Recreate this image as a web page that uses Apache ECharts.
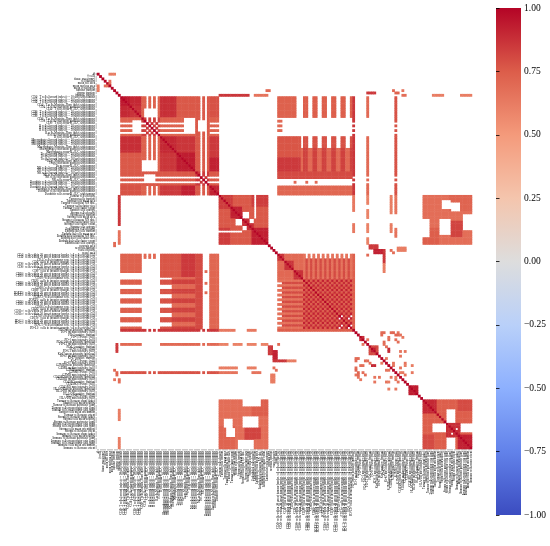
<!DOCTYPE html>
<html><head><meta charset="utf-8">
<script src="https://cdn.jsdelivr.net/npm/echarts@6/dist/echarts.min.js"></script>
<style>html,body{margin:0;padding:0;background:#fff}#c{width:550px;height:546px}</style>
</head><body><div id="c"></div>
<script>
// ---------- labels ----------
const smallNames = ['id', '# cells', 'tissue area (mm²)', 'cell density', 'mean cell area', 'mean nucleus area', 'mean eccentricity', 'tumour fraction', 'stroma fraction', 'immune fraction'];
const aPops = ['CD4+ T cells', 'CD8+ T cells', 'B cells', 'Macrophages', 'Tregs', 'NK cells', 'Dendritic cells'];
const aMetrics = ['Jaccard index (r = 10 µm) with tumour', 'Jaccard index (r = 20 µm) with tumour', 'Jaccard index (r = 50 µm) with tumour', 'Morisita–Horn index with tumour', 'colocation quotient with tumour', 'cross-K AUC with tumour'];
const bPops = ['Tumour cells', 'Stroma cells', 'Endothelial cells'];
const bMetrics = ['density', 'fraction', 'mean area', 'mean NN dist.', 'cluster size', 'cluster count', 'entropy'];
const postBNames = ['necrosis area', 'necrosis fraction', 'vessel density', 'vessel area'];
const cPops = ['CD4+', 'CD8+', 'CD20+', 'CD68+', 'FOXP3+', 'CD56+', 'CD11c+', 'PD-L1+'];
const cMetrics = ['cells within 20 µm of tumour border / all cells of type (%)', 'cells within 50 µm of tumour border / all cells of type (%)', 'cells in tumour core / all cells of type (%)', 'cells in invasive margin / all cells of type (%)'];
const postCMarkers = ['PD-1', 'PD-L1', 'Ki-67', 'GZMB', 'CD45RO', 'HLA-DR'];
const postCMetrics = ['mean intensity (nucleus)', 'median intensity (cell)', 'positive fraction', 'H-score (cell)', 'max intensity (cell)'];
const dPops = ['Tumour cells', 'Stroma cells', 'Immune cells'];
const dMetrics = ['mean shape index', 'mean solidity', 'mean perimeter (µm)', 'mean major axis (µm)', 'mean minor axis (µm)', 'mean orientation', 'mean extent'];
const cbTicks = [-1, -0.75, -0.5, -0.25, 0, 0.25, 0.5, 0.75, 1];
const cmapColors = ['#3b4cc0', '#6282ea', '#8db0fe', '#b9d0f9', '#dddddd', '#f4c5ad', '#f49a7b', '#dc5d4a', '#b40426'];

const labels = [].concat(
  smallNames,
  aPops.flatMap(p => aMetrics.map(m => p + ' ' + m)),
  bPops.flatMap(p => bMetrics.map(m => p + ' ' + m)),
  postBNames,
  cPops.flatMap(p => cMetrics.map(m => p + ' ' + m)),
  postCMarkers.flatMap(p => postCMetrics.map(m => p + ' ' + m)),
  dPops.flatMap(p => dMetrics.map(m => p + ' ' + m))
);
const N = labels.length; // 160

// ---------- index sets (variable positions) ----------
const W1 = [21, 23, 25];
const W2 = [44, 46];
const cEven = [88, 90, 92, 94, 96, 98, 100, 102, 104, 106, 108];
const cOdd = [89, 91, 93, 95, 97, 99, 101, 103, 105, 107];
const cOddLR = [103, 107];
const cEvenLR = [104, 108];
const aStripe = [88, 89, 92, 93, 96, 97, 100, 101, 104, 105, 108];
const lineVars = [109, 115, 127];

// ---------- correlation patches [rows, cols, r] (symmetric, applied in order) ----------
const patches = [
  // small variables
  [[0,0],[5,7],0.62], [[3,4],[5,5],0.68],
  // block A
  [[10,51],[10,51],0.80], [[10,18],[10,18],0.90], [[10,13],[10,13],0.94], [[14,18],[14,18],0.87],
  [[27,41],[27,41],0.86], [[27,33],[27,33],0.90], [[34,41],[34,41],0.93], [[48,51],[48,51],0.91],
  [[10,18],[27,33],0.88], [[10,18],[34,41],0.76], [[10,18],[48,51],0.78], [[27,41],[48,51],0.85], [[36,41],[48,51],0.92],
  [[19,26],[10,51],0.73], [[19,26],[19,26],0.83],
  [W1,[10,51],null], [W1,W1,0.86],
  [[20,25],[15,18],null], [[19,25],[37,42],null], [[37,41],[19,24],null],
  [[42,47],[10,51],0.76], [[42,47],[42,47],0.85],
  [W2,[10,51],null], [W2,W2,0.86], [[43,45],[20,24],null],
  // A x C
  [[10,51],[77,86],0.70], [[10,18],[77,86],0.73], [[10,18],[85,87],null],
  [[27,41],[77,86],0.77], [[36,41],[77,86],0.85],
  [[10,18],aStripe,0.74], [[27,31],aStripe,0.78],
  [[32,41],[87,108],0.70], [[32,41],aStripe,0.83],
  [[42,44],[77,108],0.80], [[45,47],[77,108],null],
  [[46,46],[84,84],0.70], [[46,46],[89,89],0.70], [[46,46],[93,93],0.70],
  [[48,51],[77,108],0.71],
  [[19,26],[77,108],null],
  [[20,20],[77,78],0.70], [[22,22],[77,78],0.70], [[24,24],[77,78],0.70],
  // block B
  [[52,72],[52,72],0.76], [[52,57],[52,57],0.84], [[57,61],[57,61],0.92], [[52,56],[66,72],0.84],
  [[62,66],[62,66],0.88], [[66,72],[66,72],0.92],
  [[59,61],[62,64],null], [[67,67],[52,61],null], [[62,63],[65,66],null],
  [[9,9],[52,64],0.86], [[9,9],[67,72],0.66],
  // block C
  [[77,108],[77,108],0.66], [[77,87],[77,87],0.70],
  [[77,79],[77,79],0.86], [[80,83],[80,83],0.87], [[84,87],[84,87],0.87],
  [[77,87],cOdd,0.80],
  [cEven,cEven,0.92], [cOdd,cOdd,0.89], [cEven,cOdd,0.74],
  [cOddLR,cEvenLR,null], [cOdd,[77,78],null],
  // isolated variables correlated with A / B
  [[109,109],[77,108],0.74], [[109,109],[10,51],0.86], [[109,109],[52,58],0.64], [[109,109],[64,67],0.64],
  [[115,115],[10,51],0.70], [[115,115],[52,72],0.60],
  [[127,127],[10,51],0.78], [[127,127],[52,59],0.66], [[127,127],[66,69],0.66],
  [[125,125],[52,59],0.62], [[125,125],[64,67],0.62],
  [lineVars,W1,null], [lineVars,W2,null], [[115,115],[19,26],null],
  [[115,115],[56,57],null], [[115,115],[62,63],null], [[115,115],[68,69],null],
  // B x D
  [[52,72],[139,159],0.68], [[52,58],[150,159],0.72], [[66,72],[139,145],0.74],
  [[62,69],[139,141],null], [[54,57],[147,150],null], [[62,68],[146,150],null],
  [[60,66],[156,159],null], [[55,58],[151,154],null],
  [[63,69],[151,155],0.82],
  [[9,9],[143,147],0.62], [[9,9],[155,159],0.62],
  // block D
  [[139,159],[139,159],0.74], [[139,144],[139,144],0.90], [[139,143],[154,159],0.80],
  [[143,148],[149,152],null], [[149,154],[149,154],0.88], [[149,152],[155,159],null],
  [[154,159],[154,159],0.92], [[151,151],[153,153],null],
  // post-B / post-C / small variables
  [[73,74],[116,119],0.85], [[75,76],[118,121],0.92], [[74,75],[128,131],0.62],
  [[8,8],[115,118],0.85], [[8,8],[127,128],0.72], [[9,9],[130,131],0.68],
  [[7,7],[126,126],0.70], [[7,7],[130,130],0.65], [[7,7],[72,73],0.70],
  [[122,122],[75,80],0.86], [[122,122],[81,84],0.62],
  [[112,113],[112,113],0.88], [[116,119],[116,119],0.80], [[117,118],[117,118],0.92],
  [[133,136],[133,136],0.93]
];
// single scattered cells [row, col, r]
const scatter = [
  [113,115,0.65],[110,121,0.70],[111,121,0.70],[112,124,0.68],[113,124,0.68],[114,122,0.70],
  [118,129,0.65],[122,110,0.70],[122,115,0.68],[123,116,0.68],[124,117,0.90],[124,118,0.90],
  [123,126,0.66],[125,129,0.66],[125,110,0.70],[126,110,0.72],[127,111,0.72],[128,111,0.70],
  [127,113,0.68],[128,114,0.68],[131,118,0.65],[129,120,0.66],[131,123,0.66],[127,129,0.62],
  [115,77,0.70],[125,75,0.68],[126,76,0.68],[110,128,0.66],[111,129,0.66],[112,130,0.64],
  [121,123,0.64],[124,126,0.66],[124,134,0.62],[130,127,0.64],[131,124,0.62],[128,131,0.66],[127,134,0.64]
];

// ---------- build matrix ----------
const M = Array.from({length: N}, () => new Array(N).fill(null));
const lists = new Set([W1, W2, cEven, cOdd, cOddLR, cEvenLR, aStripe, lineVars]);
function idx(s) {
  if (lists.has(s)) return s;
  const out = []; for (let i = s[0]; i <= s[1]; i++) out.push(i); return out;
}
patches.forEach(([rs, cs, v]) => {
  const R = idx(rs), C = idx(cs);
  R.forEach(r => C.forEach(c => { M[r][c] = v; M[c][r] = v; }));
});
scatter.forEach(([r, c, v]) => { M[r][c] = v; M[c][r] = v; });
for (let i = 0; i < N; i++) M[i][i] = 1;

const data = [];
for (let r = 0; r < N; r++) for (let c = 0; c < N; c++) if (M[r][c] !== null) data.push([c, r, M[r][c]]);

// ---------- chart ----------
const chart = echarts.init(document.getElementById('c'), null, {renderer: 'canvas'});
const serif = "'Liberation Serif', 'DejaVu Serif', serif";
const CB = {left: 496, top: 8, width: 25, height: 507};
chart.setOption({
  animation: false,
  backgroundColor: '#fff',
  grid: [
    {left: 97, top: 73, width: 375, height: 376},
    {left: CB.left, top: CB.top, width: CB.width, height: CB.height}
  ],
  xAxis: [
    {type: 'category', data: labels, gridIndex: 0, position: 'bottom',
     axisLine: {show: false}, splitLine: {show: false},
     axisTick: {show: true, length: 1.5, lineStyle: {color: '#000', width: 0.4}, alignWithLabel: true},
     axisLabel: {interval: 0, rotate: 90, fontSize: 3.0, fontFamily: serif, color: '#000', margin: 2}},
    {type: 'value', gridIndex: 1, show: false, min: 0, max: 1}
  ],
  yAxis: [
    {type: 'category', data: labels, gridIndex: 0, inverse: true,
     axisLine: {show: false}, splitLine: {show: false},
     axisTick: {show: true, length: 1.5, lineStyle: {color: '#000', width: 0.4}, alignWithLabel: true},
     axisLabel: {interval: 0, fontSize: 3.0, fontFamily: serif, color: '#000', margin: 2}},
    {type: 'value', gridIndex: 1, position: 'right', min: cbTicks[0], max: cbTicks[cbTicks.length - 1], interval: 0.25,
     axisLine: {show: false}, splitLine: {show: false},
     axisTick: {show: true, length: 3.5, lineStyle: {color: '#000', width: 0.8}},
     axisLabel: {fontSize: 9.5, fontFamily: serif, color: '#000', margin: 3,
       formatter: v => (v < 0 ? '\u2212' : '') + Math.abs(v).toFixed(2)}}
  ],
  visualMap: {
    show: false, type: 'continuous', min: -1, max: 1, seriesIndex: 0,
    inRange: {color: cmapColors}
  },
  graphic: [{
    type: 'rect', left: CB.left, top: CB.top, silent: true,
    shape: {width: CB.width, height: CB.height},
    style: {fill: new echarts.graphic.LinearGradient(0, 1, 0, 0,
      cmapColors.map((c, i) => ({offset: i / (cmapColors.length - 1), color: c})))}
  }],
  series: [
    {type: 'heatmap', xAxisIndex: 0, yAxisIndex: 0, data: data, progressive: 0,
     itemStyle: {borderWidth: 0}, emphasis: {disabled: true}},
    {type: 'line', xAxisIndex: 1, yAxisIndex: 1, data: [], silent: true}
  ]
});
</script></body></html>
